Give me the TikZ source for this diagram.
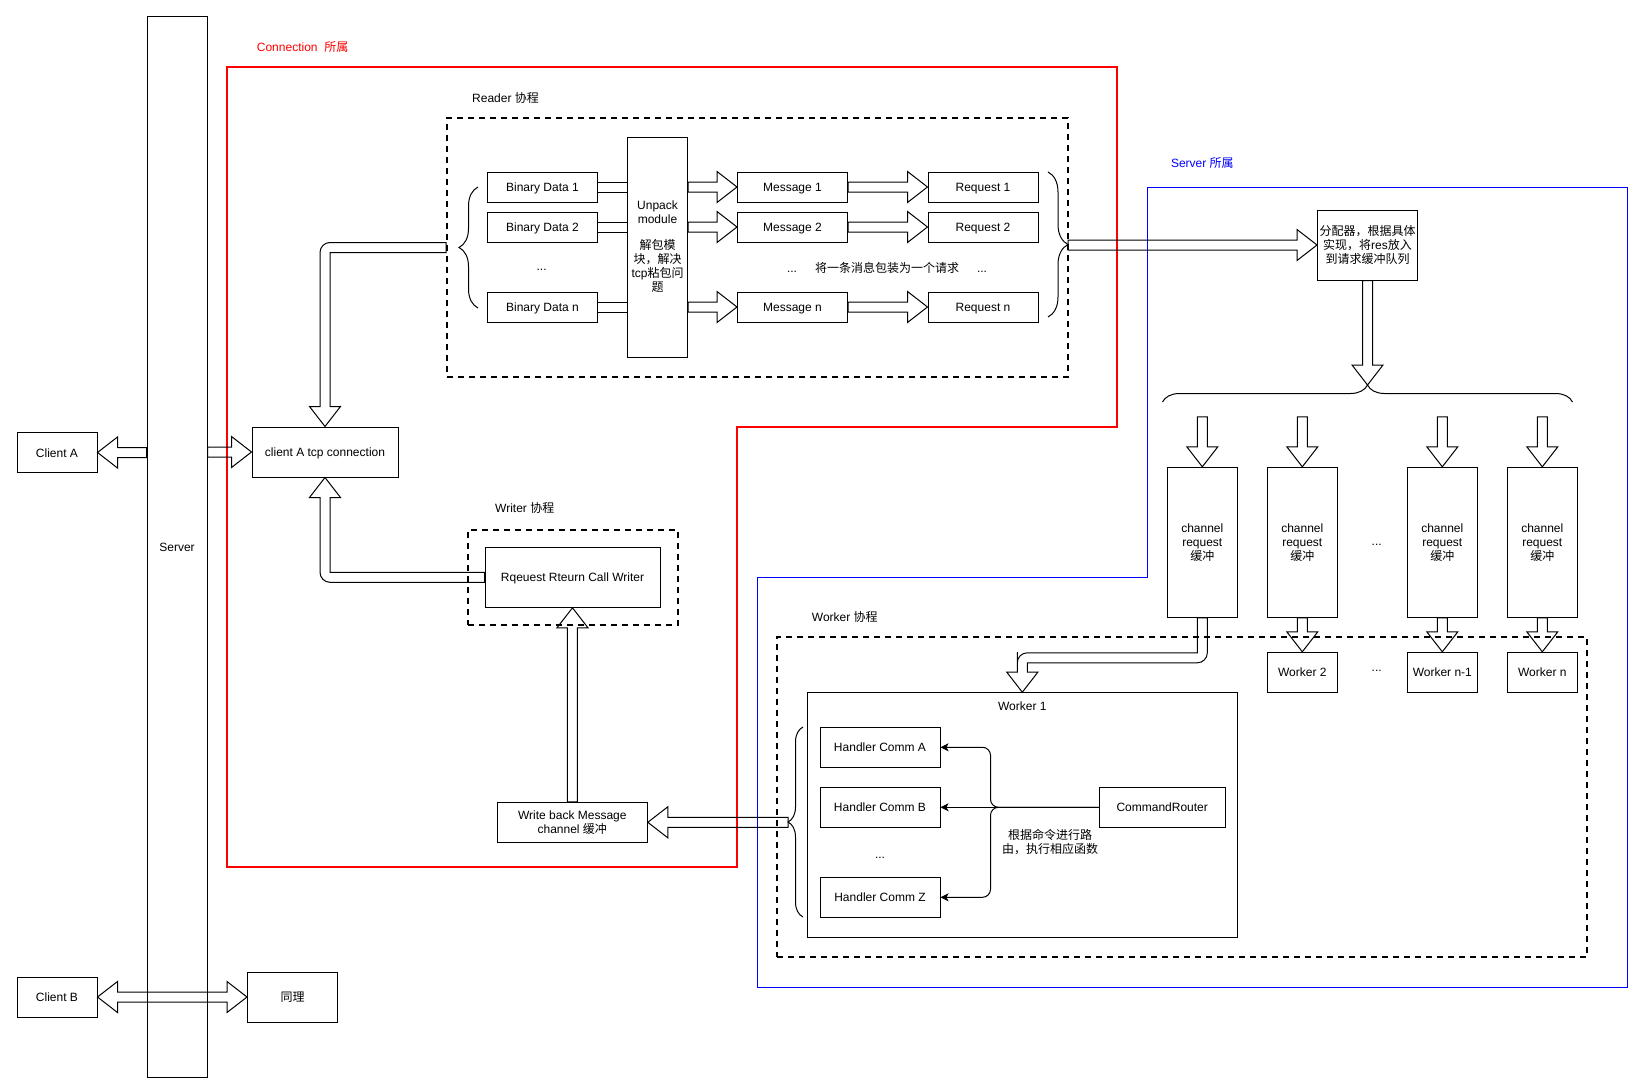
\documentclass[tikz,border=0pt]{standalone}
\usepackage{fontspec}
\setmainfont{Liberation Sans}
\newfontfamily\cjk{Noto Sans CJK SC}
\usetikzlibrary{calc,arrows.meta,decorations.pathreplacing}

\begin{document}
\begin{tikzpicture}[
    x=1pt, y=-1pt,
    font=\fontsize{12}{14}\selectfont,
    box/.style={
        draw=black,
        line width=1pt,
        inner sep=0pt,
        align=center
    },
    single/.style={text height=11.5pt, text depth=2.5pt},
    cell/.style={box, single, minimum width=110pt, minimum height=30pt},
    chan/.style={box, minimum width=70pt, minimum height=150pt},
    hand/.style={box, single, minimum width=120pt, minimum height=40pt},
    wbox/.style={box, single, minimum width=70pt, minimum height=40pt},
    region/.style={
        draw=black,
        line width=2pt,
        dash pattern=on 6pt off 5pt,
        inner sep=0pt
    },
    lab/.style={inner sep=0pt, anchor=west},
    ellip/.style={inner sep=0pt},
    flexline/.style={draw=black, line width=1pt},
    flex/.style={flexline, to path={
        ($(\tikztotarget)!20pt!(\tikztostart)$) coordinate (fb)
        ($(\tikztostart)!5pt!90:(\tikztotarget)$)
        -- ($(fb)!5pt!90:(\tikztotarget)$)
        -- ($(fb)!15.5pt!90:(\tikztotarget)$)
        -- (\tikztotarget)
        -- ($(fb)!15.5pt!-90:(\tikztotarget)$)
        -- ($(fb)!5pt!-90:(\tikztotarget)$)
        -- ($(\tikztostart)!5pt!-90:(\tikztotarget)$) -- cycle}},
    flexboth/.style={flexline, to path={
        ($(\tikztotarget)!20pt!(\tikztostart)$) coordinate (fb)
        ($(\tikztostart)!20pt!(\tikztotarget)$) coordinate (fa)
        (\tikztostart)
        -- ($(fa)!15.5pt!90:(\tikztotarget)$)
        -- ($(fa)!5pt!90:(\tikztotarget)$)
        -- ($(fb)!5pt!90:(\tikztotarget)$)
        -- ($(fb)!15.5pt!90:(\tikztotarget)$)
        -- (\tikztotarget)
        -- ($(fb)!15.5pt!-90:(\tikztotarget)$)
        -- ($(fb)!5pt!-90:(\tikztotarget)$)
        -- ($(fa)!5pt!-90:(\tikztotarget)$)
        -- ($(fa)!15.5pt!-90:(\tikztotarget)$) -- cycle}},
    shaft/.style={flexline, to path={
        ($(\tikztostart)!5pt!90:(\tikztotarget)$) -- ($(\tikztotarget)!5pt!-90:(\tikztostart)$)
        ($(\tikztostart)!5pt!-90:(\tikztotarget)$) -- ($(\tikztotarget)!5pt!90:(\tikztostart)$)}},
    bracket/.style={draw=black, line width=1pt, decorate,
        decoration={brace, amplitude=#1}},
    route/.style={draw=black, line width=1pt,
        -{Stealth[length=8pt, width=8pt, inset=2pt]}}
]
\path[use as bounding box, fill=white] (0,0) rectangle (1633,1081);

\node[box, single, minimum width=60pt, minimum height=1060pt] (server) at (177,547) {Server};
\node[box, single, minimum width=80pt, minimum height=40pt] (clientA) at (57,452.5) {Client A};
\node[box, single, minimum width=80pt, minimum height=40pt] (clientB) at (57,997) {Client B};
\node[box, single, minimum width=146pt, minimum height=50pt] (tcp) at (325,452) {client A tcp connection};
\node[box, single, minimum width=90pt, minimum height=50pt] (same) at (292.5,997) {\cjk 同理};

\draw[red, line width=2pt] (227,67) -- (1117,67) -- (1117,427) -- (737,427)
    -- (737,867) -- (227,867) -- cycle;
\node[lab, text=red] (connlab) at (256.7,47.4) {Connection\ \ {\cjk 所属}};

\node[region, minimum width=621pt, minimum height=259pt] (reader) at (757.5,247.5) {};
\node[lab] (readerlab) at (472,97.7) {Reader {\cjk 协程}};

\node[cell] (bd1) at (542.5,187) {Binary Data 1};
\node[cell] (bd2) at (542.5,227) {Binary Data 2};
\node[cell] (bdn) at (542.5,307) {Binary Data n};
\node[ellip] (bddots) at (541.6,270) {...};

\node[box, minimum width=60pt, minimum height=220pt] (unpack) at (657.5,247)
{Unpack\\module\\[12pt]{\cjk 解包模}\\{\cjk 块，解决}\\tcp{\cjk 粘包问}\\{\cjk 题}};

\node[cell] (msg1) at (792.5,187) {Message 1};
\node[cell] (msg2) at (792.5,227) {Message 2};
\node[cell] (msgn) at (792.5,307) {Message n};

\node[cell] (req1) at (983,187) {Request 1};
\node[cell] (req2) at (983,227) {Request 2};
\node[cell] (reqn) at (983,307) {Request n};

\node[ellip] (wrapnote) at (887,268)
{...\hspace{18pt}{\cjk 将一条消息包装为一个请求}\hspace{18pt}...};

\draw[bracket=19pt] (478,308) -- (478,187);
\coordinate (bdtip) at (459,247.5);
\draw[bracket=20pt] (1048,172) -- (1048,317);
\coordinate (reqtip) at (1068,244.5);

\draw[shaft] (bd1.east) to (unpack.west |- bd1.east);
\draw[shaft] (bd2.east) to (unpack.west |- bd2.east);
\draw[shaft] (bdn.east) to (unpack.west |- bdn.east);
\draw[flex] (unpack.east |- msg1.west) to (msg1.west);
\draw[flex] (unpack.east |- msg2.west) to (msg2.west);
\draw[flex] (unpack.east |- msgn.west) to (msgn.west);
\draw[flex] (msg1.east) to (req1.west);
\draw[flex] (msg2.east) to (req2.west);
\draw[flex] (msgn.east) to (reqn.west);

\node[region, minimum width=210pt, minimum height=95pt] (writer) at (572.5,577.5) {};
\node[lab] (writerlab) at (495,508) {Writer {\cjk 协程}};
\node[box, single, minimum width=175pt, minimum height=60pt] (callwr) at (572.5,577.3) {Rqeuest Rteurn Call Writer};
\node[box, minimum width=150pt, minimum height=40pt] (wback) at (572.3,822.3)
{Write back Message\\channel {\cjk 缓冲}};

\draw[blue, line width=1pt] (1147,187) -- (1627,187) -- (1627,987) -- (757.5,987)
    -- (757.5,577) -- (1147,577) -- cycle;
\node[lab, text=blue] (serverlab) at (1170.8,162.7) {Server {\cjk 所属}};

\node[box, minimum width=100pt, minimum height=70pt] (dispatch) at (1367.5,245)
{{\cjk 分配器，根据具体}\\{\cjk 实现，将}res{\cjk 放入}\\{\cjk 到请求缓冲队列}};

\draw[bracket=17pt] (1162.5,402) -- (1572.5,402);
\coordinate (split) at (1367.5,385);

\node[chan] (ch1) at (1202.3,542.3) {channel\\request\\{\cjk 缓冲}};
\node[chan] (ch2) at (1302.3,542.3) {channel\\request\\{\cjk 缓冲}};
\node[chan] (ch3) at (1442.3,542.3) {channel\\request\\{\cjk 缓冲}};
\node[chan] (ch4) at (1542.3,542.3) {channel\\request\\{\cjk 缓冲}};
\node[ellip] (chdots) at (1376.7,545) {...};

\coordinate (in1) at ($(ch1.north)+(0,-50)$);
\coordinate (in2) at ($(ch2.north)+(0,-50)$);
\coordinate (in3) at ($(ch3.north)+(0,-50)$);
\coordinate (in4) at ($(ch4.north)+(0,-50)$);

\node[region, minimum width=810pt, minimum height=320pt] (workers) at (1182.3,797.3) {};
\node[lab] (workerlab) at (811.7,617.3) {Worker {\cjk 协程}};

\node[wbox] (wk2) at (1302.3,672.3) {Worker 2};
\node[wbox] (wkm) at (1442.3,672.3) {Worker n-1};
\node[wbox] (wkn) at (1542.3,672.3) {Worker n};
\node[ellip] (wkdots) at (1376.7,670.7) {...};

\node[box, minimum width=430pt, minimum height=244.6pt] (wk1) at (1022.3,815) {};
\node[single, inner sep=0pt] (wk1lab) at (1022.3,705.7) {Worker 1};

\node[hand] (hA) at (880,747.3) {Handler Comm A};
\node[hand] (hB) at (880,807.3) {Handler Comm B};
\node[hand] (hZ) at (880,897.3) {Handler Comm Z};
\node[ellip] (hdots) at (880,858) {...};
\node[box, single, minimum width=126pt, minimum height=40pt] (router) at (1162.2,807.3) {CommandRouter};
\node[align=center, inner sep=0pt] (routenote) at (1050,842.5)
{{\cjk 根据命令进行路}\\{\cjk 由，执行相应函数}};

\draw[bracket=15pt] (803,917) -- (803,727);
\coordinate (wtip) at (788,822);

\draw[route] (router.west) -- (hB.east);
\draw[route, rounded corners=8pt] (router.west) -| ($(hA.east)+(50,0)$) -- (hA.east);
\draw[route, rounded corners=8pt] (router.west) -| ($(hZ.east)+(50,0)$) -- (hZ.east);

\draw[flex] (server.west |- clientA.east) to (clientA.east);
\draw[flex] (server.east |- tcp.west) to (tcp.west);
\draw[flexboth] (clientB.east) to (same.west);

\draw[flex] (reqtip |- dispatch.west) to (dispatch.west);
\draw[flex] (dispatch.south) to (split);
\draw[flex] (in1) to (ch1.north);
\draw[flex] (in2) to (ch2.north);
\draw[flex] (in3) to (ch3.north);
\draw[flex] (in4) to (ch4.north);
\draw[flex] (ch2.south) to (wk2.north);
\draw[flex] (ch3.south) to (wkm.north);
\draw[flex] (ch4.south) to (wkn.north);
\draw[flex] (wback.north) to (callwr.south);
\draw[flex] (wtip |- wback.east) to (wback.east);

\coordinate (rturn) at (tcp.north |- bdtip);
\draw[flexline] ($(reader.west |- bdtip)+(0,-5)$) -- ($(rturn)+(60,-5)$)
    [rounded corners=10pt] -- ($(rturn)+(-5,-5)$) -- ($(rturn)+(-5,60)$)
    [sharp corners] -- ($(tcp.north)+(-5,-20)$) -- ++(-10.5,0) -- (tcp.north)
    -- ++(15.5,-20) -- ++(-10.5,0) -- ($(rturn)+(5,5)$)
    -- ($(reader.west |- bdtip)+(0,5)$) -- cycle;

\coordinate (wturn) at (tcp.south |- callwr.west);
\draw[flexline] ($(callwr.west)+(0,-5)$) -- ($(wturn)+(5,-5)$) -- ($(tcp.south)+(5,20)$)
    -- ++(10.5,0) -- (tcp.south) -- ++(-15.5,20) -- ++(10.5,0) -- ($(wturn)+(-5,-40)$)
    [rounded corners=10pt] -- ($(wturn)+(-5,5)$) -- ($(wturn)+(60,5)$)
    [sharp corners] -- ($(callwr.west)+(0,5)$) -- cycle;

\coordinate (cturn) at ($(ch1.south)+(0,40)$);
\draw[flexline] ($(ch1.south)+(-5,15)$) -- ($(cturn)+(-5,-5)$) -- ($(cturn)+(-90,-5)$)
    [rounded corners=10pt] -- ($(wk1.north |- cturn)+(-5,-5)$) -- ($(wk1.north)+(-5,-30)$)
    [sharp corners] -- ($(wk1.north)+(-5,-20)$) -- ++(-10.5,0) -- (wk1.north)
    -- ++(15.5,-20) -- ++(-10.5,0) -- ($(wk1.north |- cturn)+(5,5)$) -- ($(cturn)+(-90,5)$)
    [rounded corners=10pt] -- ($(cturn)+(5,5)$) -- ($(ch1.south)+(5,20)$)
    [sharp corners] -- ($(ch1.south)+(5,0)$) -- ($(ch1.south)+(-5,0)$) -- cycle;

\end{tikzpicture}
\end{document}
